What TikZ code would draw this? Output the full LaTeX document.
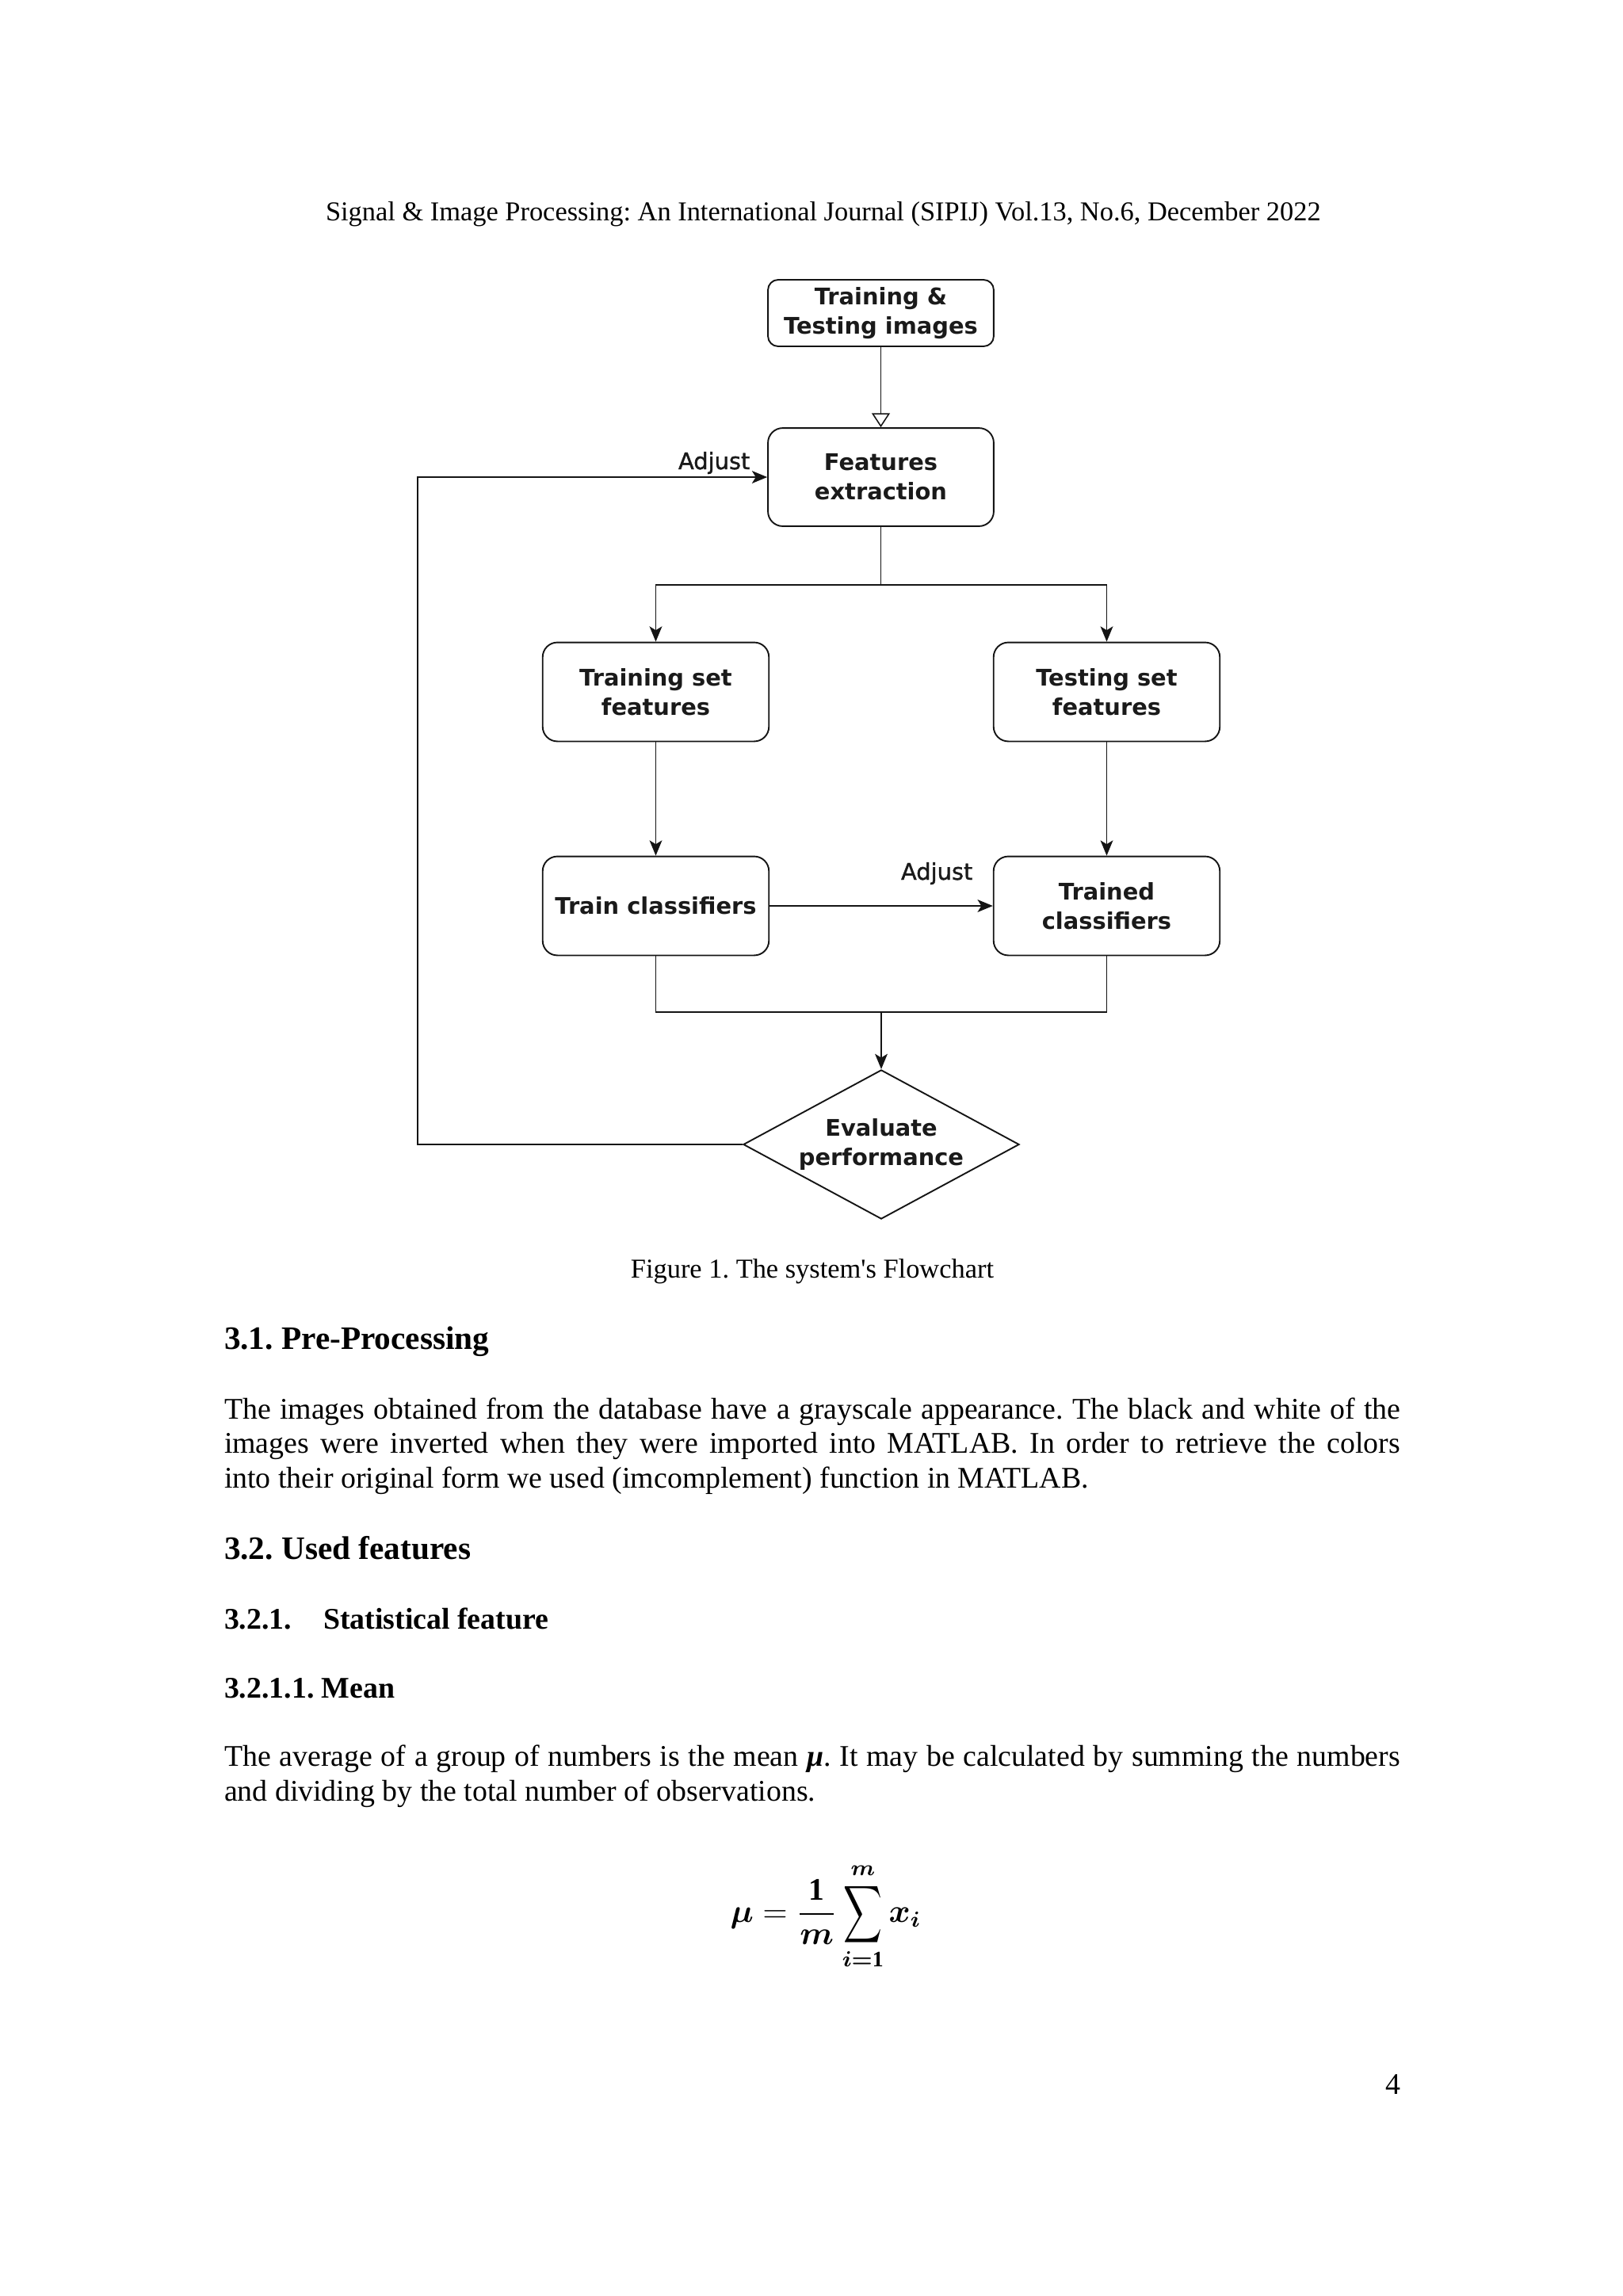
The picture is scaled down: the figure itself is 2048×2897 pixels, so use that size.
\documentclass[tikz,border=0pt]{standalone}
\usepackage{fontspec}
\usepackage{amsmath}
\usepackage{bm}
\usepackage{graphicx}
\setmainfont{Liberation Serif}
\newfontfamily\boxfont{DejaVu Sans}
\newfontfamily\lblfont[FakeBold=1.2]{DejaVu Sans}
\usetikzlibrary{shapes.geometric,arrows.meta}
\definecolor{ink}{HTML}{1A1A1A}
\definecolor{edge}{HTML}{141414}
\frenchspacing
\begin{document}
\begin{tikzpicture}[x=0.2907pt,y=-0.2907pt,
  txt/.style={inner sep=0pt,outer sep=0pt},
  flowbox/.style={draw=edge,line width=0.55pt,rounded corners=5.4pt,inner sep=0pt,
    minimum width=83pt,minimum height=36.3pt,align=center,text=ink,
    font=\boxfont\fontsize{8.4}{10.75}\selectfont\bfseries},
  conn/.style={draw=edge,line width=0.45pt},
  arr/.style={conn,-{Stealth[length=5.6pt,width=4.6pt,inset=1.4pt]}},
  openarr/.style={conn,-{Triangle[open,length=5.2pt,width=6.7pt]}},
  lbl/.style={txt,text=ink,font=\lblfont\fontsize{8.4}{10}\selectfont},
  body/.style={txt,anchor=base west,font=\fontsize{11}{12.65}\selectfont},
  head/.style={txt,anchor=base west,font=\fontsize{12}{14}\selectfont\bfseries},
  subhead/.style={txt,anchor=base west,font=\fontsize{11}{12.65}\selectfont\bfseries}]
\useasboundingbox (0,0) rectangle (2048,2897);
\fill[white] (0,0) rectangle (2048,2897);

% header
\node[txt,anchor=base west,font=\fontsize{10}{12}\selectfont] (hdr) at (411,278)
  {Signal \& Image Processing: An International Journal (SIPIJ) Vol.13, No.6, December 2022};

% flowchart
\node[flowbox,rounded corners=3.7pt,minimum width=82.8pt,minimum height=24.4pt] (top) at (1111.5,395) {\raisebox{-1.2pt}{Training \&}\\\raisebox{-1.2pt}{Testing images}};
\node[flowbox,minimum width=82.8pt,minimum height=36pt] (feat) at (1111.5,602) {Features\\extraction};
\node[flowbox] (trset) at (827.5,873) {Training set\\features};
\node[flowbox] (teset) at (1396.5,873) {Testing set\\features};
\node[flowbox] (trcl) at (827.5,1143) {Train classifiers};
\node[flowbox] (tdcl) at (1396.5,1143) {Trained\\classifiers};
\node[diamond,draw=edge,line width=0.55pt,inner sep=0pt,minimum width=101.2pt,minimum height=54.7pt] (eval) at (1112,1444) {};
\node[txt,align=center,text=ink,font=\boxfont\fontsize{8.4}{10.75}\selectfont\bfseries] (evaltxt) at (eval.center) {Evaluate\\performance};

\coordinate (split) at (1111.5,738);
\coordinate (merge) at (1112,1277);
\coordinate (fb) at (527,1444);

\draw[openarr] (top.south) -- (feat.north);
\draw[conn] (feat.south) -- (split);
\draw[arr] (split) -| (trset.north);
\draw[arr] (split) -| (teset.north);
\draw[arr] (trset.south) -- (trcl.north);
\draw[arr] (teset.south) -- (tdcl.north);
\draw[arr] (trcl.east) -- (tdcl.west);
\draw[conn] (trcl.south) |- (merge);
\draw[conn] (tdcl.south) |- (merge);
\draw[arr] (merge) -- (eval.north);
\draw[arr] (eval.west) -- (fb) |- (feat.west);

\node[lbl,anchor=base west] (adj1) at (856,592) {Adjust};
\node[lbl,anchor=base west] (adj2) at (1137,1110) {Adjust};

% caption
\node[txt,anchor=base,font=\fontsize{10}{12}\selectfont] (cap) at (1025,1612) {Figure 1. The system\textquotesingle s Flowchart};

% text
\node[head] (h31) at (283,1702) {3.1. Pre-Processing};
\node[body] (p1) at (283,1790) {\hbox to 431.4pt{The images obtained from the database have a grayscale appearance. The black and white of the}};
\node[body] (p2) at (283,1833) {\hbox to 431.4pt{images were inverted when they were imported into MATLAB. In order to retrieve the colors}};
\node[body] (p3) at (283,1877) {into their original form we used (imcomplement) function in MATLAB.};
\node[head] (h32) at (283,1967) {3.2. Used features};
\node[subhead] (h321n) at (283,2055) {3.2.1.};
\node[subhead] (h321) at (408,2055) {Statistical feature};
\node[subhead] (h3211) at (283,2142) {3.2.1.1. Mean};
\node[body] (p4) at (283,2228) {\hbox to 431.4pt{The average of a group of numbers is the mean {\bfseries\itshape μ}. It may be calculated by summing the numbers}};
\node[body] (p5) at (283,2272) {and dividing by the total number of observations.};

% formula
\node[txt,font=\fontsize{11.5}{14}\selectfont] (eq) at (1042,2418)
  {$\displaystyle \bm{\mu}=\frac{\mathbf{1}}{\bm{m}}\mathop{\vcenter{\hbox{\scalebox{0.82}[1.22]{$\displaystyle\sum$}}}}\limits_{\bm{i}\bm{=}\mathbf{1}}^{\bm{m}}\bm{x}_{\bm{i}}$};

% page number
\node[txt,anchor=base east,font=\fontsize{11}{13}\selectfont] (pg) at (1767,2642) {4};
\end{tikzpicture}
\end{document}
